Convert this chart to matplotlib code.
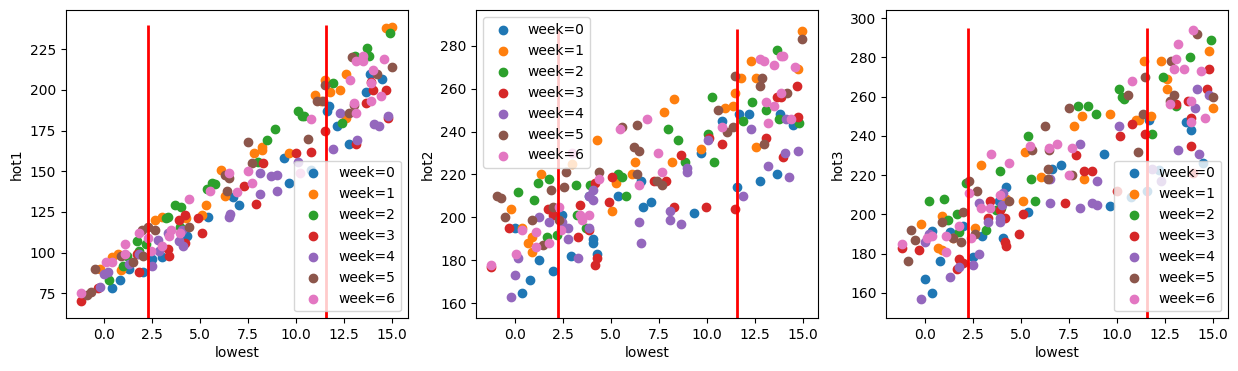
import matplotlib
matplotlib.use('Agg')
import matplotlib.pyplot as plt
import numpy as np

# (lowest, hot) pairs, one list per week
hot1_w0 = [(.42,78),(.83,83),(1.3,90),(2.03,88),(2.51,96),(3.0,97),(4.3,110),(5.42,122),(6.7,134),(7.0,129),
           (9.65,143),(9.39,158),(10.75,151),(12.13,178),(12.77,167),(13.64,199),(13.87,210),(14.45,207),(11.6,187),(11.73,190)]
hot1_w1 = [(-.23,90),(.38,97),(.73,99),(.88,89),(2.62,120),(3.0,122),(4.28,121),(5.1,123),(5.3,129),(6.08,151),(6.31,135),
           (7.8,161),(8.23,165),(8.23,163),(9.65,161),(10.99,197),(11.48,206),(11.74,199),(12.29,200),(12.58,210),(12.6,183),
           (14.68,238),(14.97,239),(11.3,193)]
hot1_w2 = [(.23,83),(1.0,92),(1.16,98),(1.72,107),(1.8,101),(2.17,105),(3.2,121),(3.33,122),(3.67,129),(4.0,128),(3.93,116),
           (5.37,139),(5.6,143),(5.77,142),(8.0,156),(8.48,169),(8.89,176),(10.07,187),(10.31,184),(10.43,184),(11.9,204),
           (12.37,180),(13.08,221),(13.81,221),(13.67,226),(14.87,235)]
hot1_w3 = [(-1.2,70),(-.31,78),(1.82,88),(1.68,99),(3.33,102),(3.38,98),(4.2,106),(3.9,120),(4.2,123),(4.89,121),(5.1,112),
           (7.26,141),(7.92,130),(8.27,155),(9.97,161),(10.77,162),(11.49,175),(13.1,167),(13.64,192),(13.9,205),(13.99,200),
           (14.68,200),(14.8,183)]
hot1_w4 = [(-.23,79),(0,87),(.21,88),(1.28,93),(1.8,99),(2.51,92),(2.81,108),(2.84,101),(3.33,112),(3.9,107),(4.11,104),
           (4.07,114),(6.57,124),(6.5,122),(8.1,149),(8.1,136),(8.7,147),(9.0,148),(9.0,138),(10.1,156),(11.9,164),(12.27,186),
           (13.15,169),(14.07,179),(14.3,178),(14.8,184)]
hot1_w5 = [(-.47,90),(-.88,74),(-.69,76),(.88,98),(1.5,94),(2.0,98),(1.94,114),(2.29,116),(2.63,114),(4.42,116),(6.27,148),
           (6.5,146),(6.4,138),(7.49,168),(7.7,155),(10.6,170),(11.08,193),(11.39,193),(11.49,203),(12.77,186),(13,191),
           (12.9,220),(14.21,210),(14.97,214)]
hot1_w6 = [(-1.2,75),(.09,94),(.42,94),(1.09,105),(1.09,99),(1.82,112),(2.29,109),(2.41,101),(3.02,104),(3.38,110),(3.5,114),
           (3.93,112),(4.42,133),(5.53,138),(6.5,149),(6.92,137),(7.49,150),(7.7,143),(10.19,149),(10.76,182),(12.8,206),
           (13,192),(13.1,186),(13.1,218),(13.47,221),(13.47,218),(13.9,204),(13.9,193),(13.99,212),(14.4,196),(14.56,219)]

hot2_w0 = [(.37,165),(.78,171),(1.25,180),(1.98,175),(2.47,201),(2.96,182),(0,195),(4.07,190),(4.07,188),(4.28,183),(3.86,210),
           (5.37,210),(6.57,217),(6.68,205),(7.08,207),(9.35,202),(9.69,230),(10.78,245),(11.67,248),(11.56,214),(12.2,248),
           (12.76,217),(13.65,220),(13.85,248),(14.48,243)]
hot2_w1 = [(-.21,204),(.37,195),(.68,188),(.89,191),(.89,184),(1.36,220),(2.97,225),(4.28,236),(5.06,203),(5.27,216),(6.1,220),
           (6.28,226),(7.76,249),(8.28,255),(8.18,226),(9.69,232),(10.97,251),(11.35,252),(11.46,258),(11.79,265),(12.29,273),
           (12.55,265),(12.57,233),(14.76,269),(14.95,287)]
hot2_w2 = [(.16,212),(.99,208),(1.2,216),(1.77,218),(1.67,191),(2.19,192),(3.18,215),(3.23,201),(3.72,195),(3.93,215),(5.37,220),
           (5.58,219),(5.79,210),(8,241),(8.5,236),(8.86,226),(10.05,239),(10.26,256),(10.36,226),(11.88,245),(12.34,254),
           (13.07,250),(13.65,278),(13.75,246),(14.84,244)]
hot2_w3 = [(-1.25,177),(-.31,195),(1.74,204),(1.98,201),(3.29,191),(3.39,206),(3.86,194),(4.17,178),(4.28,181),(4.17,216),
           (4.9,207),(5.06,219),(7.27,217),(7.88,217),(8.28,205),(8.65,229),(9.95,205),(10.14,237),(10.78,234),(11.46,204),
           (13.07,237),(13.65,256),(13.87,256),(13.96,228),(14.71,261),(14.76,247)]
hot2_w4 = [(-.21,163),(0,173),(.16,181),(1.25,200),(1.77,198),(2.47,198),(2.77,195),(2.77,190),(3.29,181),(3.86,195),(3.86,210),
           (4.07,213),(4.07,208),(6.47,198),(6.57,188),(8.07,203),(8.07,199),(8.65,197),(8.96,223),(8.96,221),(10.05,236),
           (11.88,210),(12.29,241),(13.18,224),(14.06,230),(14.27,219),(14.74,231),(14.13,246)]
hot2_w5 = [(-.94,210),(-.71,209),(-.52,200),(.89,199),(1.46,187),(1.88,213),(1.98,205),(2.3,199),(2.57,214),(2.66,221),(4.38,221),
           (5.6,242),(6.37,243),(6.24,233),(6.47,231),(6.37,220),(7.4,217),(7.67,215),(10.57,250),(11.04,240),(11.35,242),
           (11.46,266),(12.76,261),(12.87,265),(12.97,234),(14.18,258),(14.95,283)]
hot2_w6 = [(-1.25,178),(.05,183),(.37,194),(1.1,193),(1.1,186),(1.77,188),(2.3,205),(2.4,194),(2.97,230),(3.39,201),(3.5,199),
           (3.86,201),(4.38,218),(5.5,241),(6.47,215),(6.89,246),(7.45,230),(7.66,221),(10.78,242),(12.76,274),(12.97,273),
           (13.07,254),(13.49,271),(13.49,252),(13.18,244),(13.87,275),(13.99,275),(13.87,258),(14.38,246),(14.58,270)]

hot3_w0 = [(.36,160),(0,167),(.78,176),(.36,191.5),(1.3,191),(1.98,194),(2.51,178),(2.98,189),(4.06,188),(4.26,214),(3.85,207),
           (5.36,201),(6.65,223),(7.08,225),(9.36,231),(9.67,204),(10.75,209),(11.56,212),(11.67,248),(12.23,222.5),(13.61,247),
           (13.9,243),(14.48,226)]
hot3_w1 = [(-.21,195),(.68,183),(.88,182),(.88,199),(1.46,188),(2.62,193),(2.96,225),(4.23,208),(5.1,207),(5.25,232),(6.08,219),
           (7.76,245),(8.18,250),(8.28,218),(9.67,251),(10.99,248),(11.41,278),(11.79,250),(12.29,278),(12.6,269),(12.6,264),
           (14.79,283),(15,254),(11.18,248)]
hot3_w2 = [(.2,207),(.99,208),(1.2,197),(1.66,200),(1.77,191),(2.15,216),(3.17,192),(3.69,202),(4,203),(3.9,222),(5.36,240),
           (5.56,218),(5.77,207),(8,255),(8.5,255),(8.91,251),(10.1,264),(10.26,260),(10.4,259),(11.87,241),(12.4,270),
           (13.09,255),(13.8,280),(14.9,289)]
hot3_w3 = [(-1.2,183),(-.31,182),(1.77,177),(1.89,175),(1.66,172),(2.0,175),(3.28,198),(3.38,207),(3.9,202),(4.16,198),(4.16,186),
           (4.26,184),(4.89,190),(5.1,200),(7.29,206),(7.86,230),(8.28,222),(8.7,222),(10,212),(10.2,240),(10.78,246),(11.46,241),
           (13.07,256),(13.7,258),(13.9,249),(13.9,235),(14.69,264),(14.81,274),(13.96,221)]
hot3_w4 = [(-.21,157),(0,186),(.2,190),(1.3,168),(1.77,173),(2.51,174),(2.81,180),(2.81,206),(3.28,196),(3.9,198),(3.9,196),
           (4.06,211),(4.02,205),(6.55,206),(6.55,218),(8.07,203),(8.7,206),(8.96,205),(8.96,217),(8.07,236),(10.1,245),
           (11.87,223),(12.29,217),(13.18,233),(14.06,254),(14.17,264),(14.27,231),(14.79,261)]
hot3_w5 = [(-.88,176),(-.73,192),(-.52,187),(.88,196),(1.5,188),(1.87,186),(1.98,201),(2.29,217),(2.62,190),(2.7,212),(4.37,207),
           (5.58,233),(6.29,245),(6.4,223),(6.4,218),(6.5,233),(7.5,254),(7.7,220),(10.57,261),(11.09,232),(11.35,251),(11.46,270),
           (12.76,258),(12.86,278),(12.97,261),(14.18,292),(15,260)]
hot3_w6 = [(-1.2,185),(.1,188),(.36,189),(1.09,189),(1.09,181),(1.77,194),(2.29,211),(2.39,188),(2.96,203),(3.38,203),(3.48,231),
           (3.9,210),(4.37,226),(5.48,235),(6.5,234),(6.88,236),(7.5,220),(7.7,234),(10.78,268),(12.76,256),(12.97,274),(13.07,279),
           (13.18,287),(13.49,274),(13.9,258),(13.9,247),(13.96,294),(14.38,273),(14.58,249)]

weeks = [0, 1, 2, 3, 4, 5, 6]
hot1 = [hot1_w0, hot1_w1, hot1_w2, hot1_w3, hot1_w4, hot1_w5, hot1_w6]
hot2 = [hot2_w0, hot2_w1, hot2_w2, hot2_w3, hot2_w4, hot2_w5, hot2_w6]
hot3 = [hot3_w0, hot3_w1, hot3_w2, hot3_w3, hot3_w4, hot3_w5, hot3_w6]

low_lines = [2.27, 11.57]
line_tops = [240, 288, 295]
ylims = [(59.6, 249), (153, 296.5), (147, 304)]
legend_locs = ['lower right', 'upper left', 'lower right']
names = ['hot1', 'hot2', 'hot3']

W, H = 1238, 371
lefts = [65.9, 476.3, 886.3]

fig = plt.figure(figsize=(W / 100, H / 100), dpi=100)
for i, panel in enumerate([hot1, hot2, hot3]):
    ax = fig.add_axes([lefts[i] / W, (H - 318.3) / H, 342 / W, 308 / H])
    for week, pts in zip(weeks, panel):
        pts = np.array(pts)
        ax.scatter(pts[:, 0], pts[:, 1], label='week=%d' % week)
    ax.vlines(low_lines, ylims[i][0] - 20, line_tops[i], colors='red', linewidth=2)
    ax.set_xlim(-2, 15.82)
    ax.set_ylim(*ylims[i])
    ax.set_xlabel('lowest', labelpad=3)
    ax.set_ylabel(names[i])
    ax.legend(loc=legend_locs[i])

fig.savefig('out.png', dpi=100)
